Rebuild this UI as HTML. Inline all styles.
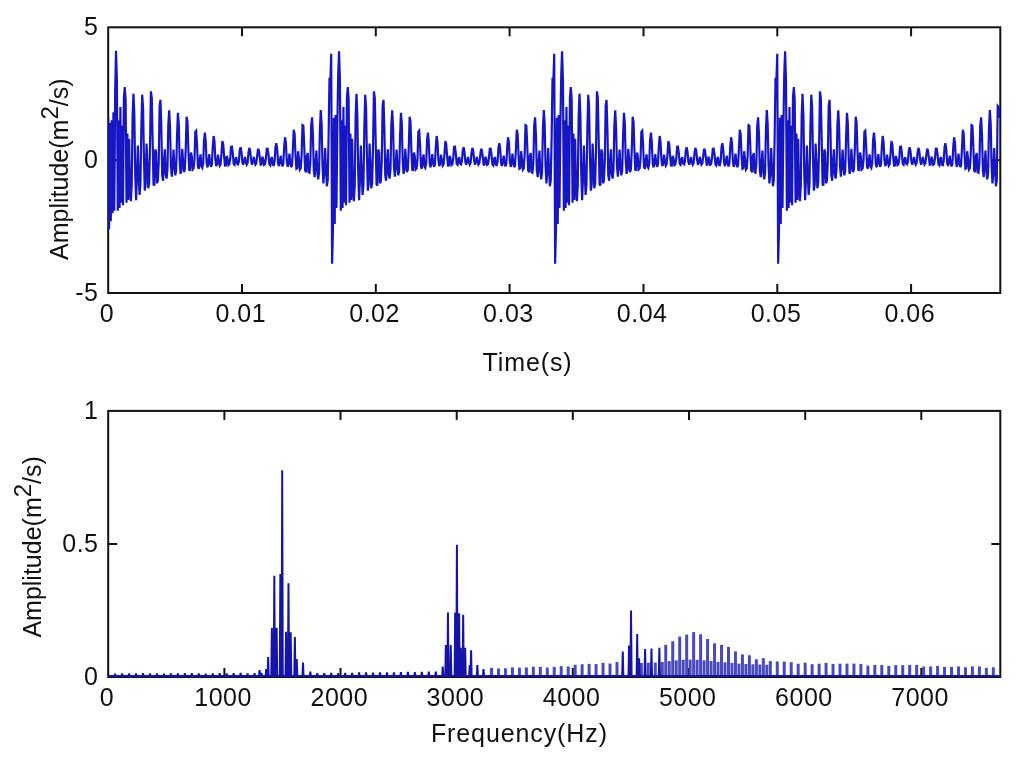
<!DOCTYPE html>
<html><head><meta charset="utf-8"><title>Plot</title>
<style>html,body{margin:0;padding:0;background:#fff;width:1024px;height:768px;overflow:hidden}svg{display:block}</style>
</head><body>
<svg width="1024" height="768" viewBox="0 0 1024 768">
<rect width="1024" height="768" fill="#fff"/>
<defs><clipPath id="c1"><rect x="108.2" y="27.3" width="892.1" height="265.7"/></clipPath><clipPath id="c2"><rect x="108.2" y="410.9" width="892.1" height="266.1"/></clipPath></defs>
<rect x="108.2" y="27.3" width="892.1" height="265.7" fill="none" stroke="#111" stroke-width="2"/>
<line x1="242.0" y1="293.0" x2="242.0" y2="284.0" stroke="#111" stroke-width="2"/>
<line x1="242.0" y1="27.3" x2="242.0" y2="36.3" stroke="#111" stroke-width="2"/>
<line x1="375.8" y1="293.0" x2="375.8" y2="284.0" stroke="#111" stroke-width="2"/>
<line x1="375.8" y1="27.3" x2="375.8" y2="36.3" stroke="#111" stroke-width="2"/>
<line x1="509.6" y1="293.0" x2="509.6" y2="284.0" stroke="#111" stroke-width="2"/>
<line x1="509.6" y1="27.3" x2="509.6" y2="36.3" stroke="#111" stroke-width="2"/>
<line x1="643.5" y1="293.0" x2="643.5" y2="284.0" stroke="#111" stroke-width="2"/>
<line x1="643.5" y1="27.3" x2="643.5" y2="36.3" stroke="#111" stroke-width="2"/>
<line x1="777.3" y1="293.0" x2="777.3" y2="284.0" stroke="#111" stroke-width="2"/>
<line x1="777.3" y1="27.3" x2="777.3" y2="36.3" stroke="#111" stroke-width="2"/>
<line x1="911.1" y1="293.0" x2="911.1" y2="284.0" stroke="#111" stroke-width="2"/>
<line x1="911.1" y1="27.3" x2="911.1" y2="36.3" stroke="#111" stroke-width="2"/>
<line x1="108.2" y1="160.2" x2="117.2" y2="160.2" stroke="#111" stroke-width="2"/>
<line x1="1000.3" y1="160.2" x2="991.3" y2="160.2" stroke="#111" stroke-width="2"/>
<rect x="108.2" y="410.9" width="892.1" height="266.1" fill="none" stroke="#111" stroke-width="2"/>
<line x1="224.4" y1="677.0" x2="224.4" y2="668.0" stroke="#111" stroke-width="2"/>
<line x1="224.4" y1="410.9" x2="224.4" y2="419.9" stroke="#111" stroke-width="2"/>
<line x1="340.5" y1="677.0" x2="340.5" y2="668.0" stroke="#111" stroke-width="2"/>
<line x1="340.5" y1="410.9" x2="340.5" y2="419.9" stroke="#111" stroke-width="2"/>
<line x1="456.7" y1="677.0" x2="456.7" y2="668.0" stroke="#111" stroke-width="2"/>
<line x1="456.7" y1="410.9" x2="456.7" y2="419.9" stroke="#111" stroke-width="2"/>
<line x1="572.8" y1="677.0" x2="572.8" y2="668.0" stroke="#111" stroke-width="2"/>
<line x1="572.8" y1="410.9" x2="572.8" y2="419.9" stroke="#111" stroke-width="2"/>
<line x1="689.0" y1="677.0" x2="689.0" y2="668.0" stroke="#111" stroke-width="2"/>
<line x1="689.0" y1="410.9" x2="689.0" y2="419.9" stroke="#111" stroke-width="2"/>
<line x1="805.2" y1="677.0" x2="805.2" y2="668.0" stroke="#111" stroke-width="2"/>
<line x1="805.2" y1="410.9" x2="805.2" y2="419.9" stroke="#111" stroke-width="2"/>
<line x1="921.3" y1="677.0" x2="921.3" y2="668.0" stroke="#111" stroke-width="2"/>
<line x1="921.3" y1="410.9" x2="921.3" y2="419.9" stroke="#111" stroke-width="2"/>
<line x1="108.2" y1="544.0" x2="117.2" y2="544.0" stroke="#111" stroke-width="2"/>
<line x1="1000.3" y1="544.0" x2="991.3" y2="544.0" stroke="#111" stroke-width="2"/>
<polyline clip-path="url(#c1)" points="108.20,117.64 109.07,229.23 109.94,122.95 110.81,221.26 111.68,120.30 112.56,213.29 113.43,112.32 114.30,210.63 115.17,91.07 116.04,50.68 116.91,80.44 117.78,210.63 118.65,120.30 119.53,207.98 120.40,107.01 121.27,202.66 122.14,125.61 123.01,205.32 123.88,97.98 124.75,87.08 125.62,99.04 126.50,202.66 127.37,133.58 128.24,200.00 129.11,138.89 129.98,188.28 130.85,201.28 131.72,185.56 132.59,116.25 133.46,93.67 134.34,114.99 135.21,173.68 136.08,200.27 136.95,178.15 137.82,145.47 138.69,174.11 139.56,194.97 140.43,184.43 141.31,129.89 142.18,94.68 143.05,107.61 143.92,156.81 144.79,190.64 145.66,184.10 146.53,143.59 147.40,162.74 148.27,188.21 149.15,182.71 150.02,145.92 150.89,91.39 151.76,97.85 152.63,139.72 153.50,184.36 154.37,185.54 155.24,149.43 156.12,152.33 156.99,183.32 157.86,180.90 158.73,162.02 159.60,105.96 160.47,99.80 161.34,127.95 162.21,175.27 163.09,180.75 163.96,161.24 164.83,149.36 165.70,174.01 166.57,178.52 167.44,169.86 168.31,125.01 169.18,110.31 170.05,127.74 170.93,166.52 171.80,176.66 172.67,166.49 173.54,149.46 174.41,166.67 175.28,175.42 176.15,170.63 177.02,136.61 177.90,112.82 178.77,123.22 179.64,159.43 180.51,173.85 181.38,169.99 182.25,148.87 183.12,161.51 183.99,172.15 184.86,169.35 185.74,148.84 186.61,116.81 187.48,121.79 188.35,149.19 189.22,169.84 190.09,170.02 190.96,152.46 191.83,156.55 192.71,169.35 193.58,168.26 194.45,159.76 195.32,131.90 196.19,130.76 197.06,145.00 197.93,166.66 198.80,168.77 199.68,159.68 200.55,154.45 201.42,166.34 202.29,167.87 203.16,163.49 204.03,140.07 204.90,132.67 205.77,142.40 206.64,163.25 207.52,167.44 208.39,162.25 209.26,154.18 210.13,163.13 211.00,166.87 211.87,164.51 212.74,147.02 213.61,135.97 214.49,141.88 215.36,159.85 216.23,166.18 217.10,164.04 217.97,154.55 218.84,160.73 219.71,165.80 220.58,164.40 221.45,153.91 222.33,141.17 223.20,143.90 224.07,155.80 224.94,165.49 225.81,165.42 226.68,155.85 227.55,158.61 228.42,165.06 229.30,164.34 230.17,159.07 231.04,146.77 231.91,146.57 232.78,153.11 233.65,163.71 234.52,164.73 235.39,159.19 236.27,157.18 237.14,163.72 238.01,164.37 238.88,161.48 239.75,150.21 240.62,147.28 241.49,151.92 242.36,162.23 243.23,164.67 244.11,161.00 244.98,156.99 245.85,162.22 246.72,164.65 247.59,162.97 248.46,152.99 249.33,147.89 250.20,150.92 251.08,160.09 251.95,164.67 252.82,162.74 253.69,156.86 254.56,160.71 255.43,164.59 256.30,163.41 257.17,155.76 258.04,148.80 258.92,150.34 259.79,157.60 260.66,164.67 261.53,164.49 262.40,156.59 263.27,159.16 264.14,164.69 265.01,164.05 265.89,158.62 266.76,148.80 267.63,148.68 268.50,154.38 269.37,164.27 270.24,165.31 271.11,158.72 271.98,157.09 272.86,164.72 273.73,165.16 274.60,161.42 275.47,147.06 276.34,143.17 277.21,149.33 278.08,163.39 278.95,166.08 279.82,161.09 280.70,155.60 281.57,163.44 282.44,166.41 283.31,164.13 284.18,146.79 285.05,137.27 285.92,143.02 286.79,160.90 287.67,166.94 288.54,163.83 289.41,153.65 290.28,161.73 291.15,167.19 292.02,165.45 292.89,148.29 293.76,129.73 294.63,133.93 295.51,155.54 296.38,168.77 297.25,168.18 298.12,151.20 298.99,159.55 299.86,169.56 300.73,168.28 301.60,155.46 302.48,125.15 303.35,125.73 304.22,145.42 305.09,170.23 305.96,172.29 306.83,156.15 307.70,153.13 308.57,172.35 309.45,172.79 310.32,163.24 311.19,125.59 312.06,117.43 312.93,134.71 313.80,170.75 314.67,177.13 315.54,163.01 316.41,150.59 317.29,171.63 318.16,179.40 319.03,172.89 319.90,129.39 320.77,110.13 321.64,124.38 322.51,165.73 323.38,183.38 324.26,172.40 325.13,147.93 326.00,168.56 326.87,186.31 327.74,180.11 328.61,136.08 329.48,77.78 330.35,80.44 331.22,53.87 332.10,263.77 332.97,229.23 333.84,117.64 334.71,223.92 335.58,114.98 336.45,207.98 337.32,128.27 338.19,75.13 339.07,51.21 339.94,80.44 340.81,210.63 341.68,120.30 342.55,207.98 343.42,107.01 344.29,202.66 345.16,125.61 346.04,205.32 346.91,97.98 347.78,87.08 348.65,99.04 349.52,202.66 350.39,133.58 351.26,200.00 352.13,138.89 353.00,188.28 353.88,201.28 354.75,185.56 355.62,116.25 356.49,93.67 357.36,114.99 358.23,173.68 359.10,200.27 359.97,178.15 360.85,145.47 361.72,174.11 362.59,194.97 363.46,184.43 364.33,129.89 365.20,94.68 366.07,107.61 366.94,156.81 367.82,190.64 368.69,184.10 369.56,143.59 370.43,162.74 371.30,188.21 372.17,182.71 373.04,145.92 373.91,91.39 374.78,97.85 375.66,139.72 376.53,184.36 377.40,185.54 378.27,149.43 379.14,152.33 380.01,183.32 380.88,180.90 381.75,162.02 382.63,105.96 383.50,99.80 384.37,127.95 385.24,175.27 386.11,180.75 386.98,161.24 387.85,149.36 388.72,174.01 389.59,178.52 390.47,169.86 391.34,125.01 392.21,110.31 393.08,127.74 393.95,166.52 394.82,176.66 395.69,166.49 396.56,149.46 397.44,166.67 398.31,175.42 399.18,170.63 400.05,136.61 400.92,112.82 401.79,123.22 402.66,159.43 403.53,173.85 404.41,169.99 405.28,148.87 406.15,161.51 407.02,172.15 407.89,169.35 408.76,148.84 409.63,116.81 410.50,121.79 411.37,149.19 412.25,169.84 413.12,170.02 413.99,152.46 414.86,156.55 415.73,169.35 416.60,168.26 417.47,159.76 418.34,131.90 419.22,130.76 420.09,145.00 420.96,166.66 421.83,168.77 422.70,159.68 423.57,154.45 424.44,166.34 425.31,167.87 426.18,163.49 427.06,140.07 427.93,132.67 428.80,142.40 429.67,163.25 430.54,167.44 431.41,162.25 432.28,154.18 433.15,163.13 434.03,166.87 434.90,164.51 435.77,147.02 436.64,135.97 437.51,141.88 438.38,159.85 439.25,166.18 440.12,164.04 441.00,154.55 441.87,160.73 442.74,165.80 443.61,164.40 444.48,153.91 445.35,141.17 446.22,143.90 447.09,155.80 447.96,165.49 448.84,165.42 449.71,155.85 450.58,158.61 451.45,165.06 452.32,164.34 453.19,159.07 454.06,146.77 454.93,146.57 455.81,153.11 456.68,163.71 457.55,164.73 458.42,159.19 459.29,157.18 460.16,163.72 461.03,164.37 461.90,161.48 462.77,150.21 463.65,147.28 464.52,151.92 465.39,162.23 466.26,164.67 467.13,161.00 468.00,156.99 468.87,162.22 469.74,164.65 470.62,162.97 471.49,152.99 472.36,147.89 473.23,150.92 474.10,160.09 474.97,164.67 475.84,162.74 476.71,156.86 477.59,160.71 478.46,164.59 479.33,163.41 480.20,155.76 481.07,148.80 481.94,150.34 482.81,157.60 483.68,164.67 484.55,164.49 485.43,156.59 486.30,159.16 487.17,164.69 488.04,164.05 488.91,158.62 489.78,148.80 490.65,148.68 491.52,154.38 492.40,164.27 493.27,165.31 494.14,158.72 495.01,157.09 495.88,164.72 496.75,165.16 497.62,161.42 498.49,147.06 499.36,143.17 500.24,149.33 501.11,163.39 501.98,166.08 502.85,161.09 503.72,155.60 504.59,163.44 505.46,166.41 506.33,164.13 507.21,146.79 508.08,137.27 508.95,143.02 509.82,160.90 510.69,166.94 511.56,163.83 512.43,153.65 513.30,161.73 514.18,167.19 515.05,165.45 515.92,148.29 516.79,129.73 517.66,133.93 518.53,155.54 519.40,168.77 520.27,168.18 521.14,151.20 522.02,159.55 522.89,169.56 523.76,168.28 524.63,155.46 525.50,125.15 526.37,125.73 527.24,145.42 528.11,170.23 528.99,172.29 529.86,156.15 530.73,153.13 531.60,172.35 532.47,172.79 533.34,163.24 534.21,125.59 535.08,117.43 535.95,134.71 536.83,170.75 537.70,177.13 538.57,163.01 539.44,150.59 540.31,171.63 541.18,179.40 542.05,172.89 542.92,129.39 543.80,110.13 544.67,124.38 545.54,165.73 546.41,183.38 547.28,172.40 548.15,147.93 549.02,168.56 549.89,186.31 550.77,180.11 551.64,136.08 552.51,77.78 553.38,80.44 554.25,53.87 555.12,263.77 555.99,229.23 556.86,117.64 557.73,223.92 558.61,114.98 559.48,207.98 560.35,128.27 561.22,75.13 562.09,51.21 562.96,80.44 563.83,210.63 564.70,120.30 565.58,207.98 566.45,107.01 567.32,202.66 568.19,125.61 569.06,205.32 569.93,97.98 570.80,87.08 571.67,99.04 572.55,202.66 573.42,133.58 574.29,200.00 575.16,138.89 576.03,188.28 576.90,201.28 577.77,185.56 578.64,116.25 579.51,93.67 580.39,114.99 581.26,173.68 582.13,200.27 583.00,178.15 583.87,145.47 584.74,174.11 585.61,194.97 586.48,184.43 587.36,129.89 588.23,94.68 589.10,107.61 589.97,156.81 590.84,190.64 591.71,184.10 592.58,143.59 593.45,162.74 594.32,188.21 595.20,182.71 596.07,145.92 596.94,91.39 597.81,97.85 598.68,139.72 599.55,184.36 600.42,185.54 601.29,149.43 602.17,152.33 603.04,183.32 603.91,180.90 604.78,162.02 605.65,105.96 606.52,99.80 607.39,127.95 608.26,175.27 609.14,180.75 610.01,161.24 610.88,149.36 611.75,174.01 612.62,178.52 613.49,169.86 614.36,125.01 615.23,110.31 616.10,127.74 616.98,166.52 617.85,176.66 618.72,166.49 619.59,149.46 620.46,166.67 621.33,175.42 622.20,170.63 623.07,136.61 623.95,112.82 624.82,123.22 625.69,159.43 626.56,173.85 627.43,169.99 628.30,148.87 629.17,161.51 630.04,172.15 630.91,169.35 631.79,148.84 632.66,116.81 633.53,121.79 634.40,149.19 635.27,169.84 636.14,170.02 637.01,152.46 637.88,156.55 638.76,169.35 639.63,168.26 640.50,159.76 641.37,131.90 642.24,130.76 643.11,145.00 643.98,166.66 644.85,168.77 645.73,159.68 646.60,154.45 647.47,166.34 648.34,167.87 649.21,163.49 650.08,140.07 650.95,132.67 651.82,142.40 652.69,163.25 653.57,167.44 654.44,162.25 655.31,154.18 656.18,163.13 657.05,166.87 657.92,164.51 658.79,147.02 659.66,135.97 660.54,141.88 661.41,159.85 662.28,166.18 663.15,164.04 664.02,154.55 664.89,160.73 665.76,165.80 666.63,164.40 667.50,153.91 668.38,141.17 669.25,143.90 670.12,155.80 670.99,165.49 671.86,165.42 672.73,155.85 673.60,158.61 674.47,165.06 675.35,164.34 676.22,159.07 677.09,146.77 677.96,146.57 678.83,153.11 679.70,163.71 680.57,164.73 681.44,159.19 682.32,157.18 683.19,163.72 684.06,164.37 684.93,161.48 685.80,150.21 686.67,147.28 687.54,151.92 688.41,162.23 689.28,164.67 690.16,161.00 691.03,156.99 691.90,162.22 692.77,164.65 693.64,162.97 694.51,152.99 695.38,147.89 696.25,150.92 697.13,160.09 698.00,164.67 698.87,162.74 699.74,156.86 700.61,160.71 701.48,164.59 702.35,163.41 703.22,155.76 704.09,148.80 704.97,150.34 705.84,157.60 706.71,164.67 707.58,164.49 708.45,156.59 709.32,159.16 710.19,164.69 711.06,164.05 711.94,158.62 712.81,148.80 713.68,148.68 714.55,154.38 715.42,164.27 716.29,165.31 717.16,158.72 718.03,157.09 718.91,164.72 719.78,165.16 720.65,161.42 721.52,147.06 722.39,143.17 723.26,149.33 724.13,163.39 725.00,166.08 725.87,161.09 726.75,155.60 727.62,163.44 728.49,166.41 729.36,164.13 730.23,146.79 731.10,137.27 731.97,143.02 732.84,160.90 733.72,166.94 734.59,163.83 735.46,153.65 736.33,161.73 737.20,167.19 738.07,165.45 738.94,148.29 739.81,129.73 740.68,133.93 741.56,155.54 742.43,168.77 743.30,168.18 744.17,151.20 745.04,159.55 745.91,169.56 746.78,168.28 747.65,155.46 748.53,125.15 749.40,125.73 750.27,145.42 751.14,170.23 752.01,172.29 752.88,156.15 753.75,153.13 754.62,172.35 755.50,172.79 756.37,163.24 757.24,125.59 758.11,117.43 758.98,134.71 759.85,170.75 760.72,177.13 761.59,163.01 762.46,150.59 763.34,171.63 764.21,179.40 765.08,172.89 765.95,129.39 766.82,110.13 767.69,124.38 768.56,165.73 769.43,183.38 770.31,172.40 771.18,147.93 772.05,168.56 772.92,186.31 773.79,180.11 774.66,136.08 775.53,77.78 776.40,80.44 777.27,53.87 778.15,263.77 779.02,229.23 779.89,117.64 780.76,223.92 781.63,114.98 782.50,207.98 783.37,128.27 784.24,75.13 785.12,51.21 785.99,80.44 786.86,210.63 787.73,120.30 788.60,207.98 789.47,107.01 790.34,202.66 791.21,125.61 792.09,205.32 792.96,97.98 793.83,87.08 794.70,99.04 795.57,202.66 796.44,133.58 797.31,200.00 798.18,138.89 799.05,188.28 799.93,201.28 800.80,185.56 801.67,116.25 802.54,93.67 803.41,114.99 804.28,173.68 805.15,200.27 806.02,178.15 806.90,145.47 807.77,174.11 808.64,194.97 809.51,184.43 810.38,129.89 811.25,94.68 812.12,107.61 812.99,156.81 813.87,190.64 814.74,184.10 815.61,143.59 816.48,162.74 817.35,188.21 818.22,182.71 819.09,145.92 819.96,91.39 820.83,97.85 821.71,139.72 822.58,184.36 823.45,185.54 824.32,149.43 825.19,152.33 826.06,183.32 826.93,180.90 827.80,162.02 828.68,105.96 829.55,99.80 830.42,127.95 831.29,175.27 832.16,180.75 833.03,161.24 833.90,149.36 834.77,174.01 835.64,178.52 836.52,169.86 837.39,125.01 838.26,110.31 839.13,127.74 840.00,166.52 840.87,176.66 841.74,166.49 842.61,149.46 843.49,166.67 844.36,175.42 845.23,170.63 846.10,136.61 846.97,112.82 847.84,123.22 848.71,159.43 849.58,173.85 850.46,169.99 851.33,148.87 852.20,161.51 853.07,172.15 853.94,169.35 854.81,148.84 855.68,116.81 856.55,121.79 857.42,149.19 858.30,169.84 859.17,170.02 860.04,152.46 860.91,156.55 861.78,169.35 862.65,168.26 863.52,159.76 864.39,131.90 865.27,130.76 866.14,145.00 867.01,166.66 867.88,168.77 868.75,159.68 869.62,154.45 870.49,166.34 871.36,167.87 872.23,163.49 873.11,140.07 873.98,132.67 874.85,142.40 875.72,163.25 876.59,167.44 877.46,162.25 878.33,154.18 879.20,163.13 880.08,166.87 880.95,164.51 881.82,147.02 882.69,135.97 883.56,141.88 884.43,159.85 885.30,166.18 886.17,164.04 887.05,154.55 887.92,160.73 888.79,165.80 889.66,164.40 890.53,153.91 891.40,141.17 892.27,143.90 893.14,155.80 894.01,165.49 894.89,165.42 895.76,155.85 896.63,158.61 897.50,165.06 898.37,164.34 899.24,159.07 900.11,146.77 900.98,146.57 901.86,153.11 902.73,163.71 903.60,164.73 904.47,159.19 905.34,157.18 906.21,163.72 907.08,164.37 907.95,161.48 908.82,150.21 909.70,147.28 910.57,151.92 911.44,162.23 912.31,164.67 913.18,161.00 914.05,156.99 914.92,162.22 915.79,164.65 916.67,162.97 917.54,152.99 918.41,147.89 919.28,150.92 920.15,160.09 921.02,164.67 921.89,162.74 922.76,156.86 923.64,160.71 924.51,164.59 925.38,163.41 926.25,155.76 927.12,148.80 927.99,150.34 928.86,157.60 929.73,164.67 930.60,164.49 931.48,156.59 932.35,159.16 933.22,164.69 934.09,164.05 934.96,158.62 935.83,148.80 936.70,148.68 937.57,154.38 938.45,164.27 939.32,165.31 940.19,158.72 941.06,157.09 941.93,164.72 942.80,165.16 943.67,161.42 944.54,147.06 945.41,143.17 946.29,149.33 947.16,163.39 948.03,166.08 948.90,161.09 949.77,155.60 950.64,163.44 951.51,166.41 952.38,164.13 953.26,146.79 954.13,137.27 955.00,143.02 955.87,160.90 956.74,166.94 957.61,163.83 958.48,153.65 959.35,161.73 960.23,167.19 961.10,165.45 961.97,148.29 962.84,129.73 963.71,133.93 964.58,155.54 965.45,168.77 966.32,168.18 967.19,151.20 968.07,159.55 968.94,169.56 969.81,168.28 970.68,155.46 971.55,125.15 972.42,125.73 973.29,145.42 974.16,170.23 975.04,172.29 975.91,156.15 976.78,153.13 977.65,172.35 978.52,172.79 979.39,163.24 980.26,125.59 981.13,117.43 982.00,134.71 982.88,170.75 983.75,177.13 984.62,163.01 985.49,150.59 986.36,171.63 987.23,179.40 988.10,172.89 988.97,129.39 989.85,110.13 990.72,124.38 991.59,165.73 992.46,183.38 993.33,172.40 994.20,147.93 995.07,168.56 995.94,186.31 996.82,180.11 997.69,105.95 998.56,107.01 999.43,117.64" fill="none" stroke="#1616c4" stroke-width="2.2" stroke-linejoin="miter" stroke-miterlimit="3"/>
<g clip-path="url(#c2)" fill="#4a4abf"><rect x="490.02" y="667.81" width="3.0" height="9.19"/><rect x="496.99" y="668.43" width="3.0" height="8.57"/><rect x="503.96" y="668.29" width="3.0" height="8.71"/><rect x="510.93" y="667.37" width="3.0" height="9.63"/><rect x="517.90" y="667.65" width="3.0" height="9.35"/><rect x="524.87" y="667.39" width="3.0" height="9.61"/><rect x="531.84" y="666.71" width="3.0" height="10.29"/><rect x="538.81" y="666.84" width="3.0" height="10.16"/><rect x="545.78" y="667.57" width="3.0" height="9.43"/><rect x="552.75" y="666.89" width="3.0" height="10.11"/><rect x="559.72" y="666.13" width="3.0" height="10.87"/><rect x="566.69" y="666.48" width="3.0" height="10.52"/><rect x="573.66" y="664.80" width="3.0" height="12.20"/><rect x="580.63" y="664.27" width="3.0" height="12.73"/><rect x="587.60" y="663.89" width="3.0" height="13.11"/><rect x="594.57" y="664.11" width="3.0" height="12.89"/><rect x="601.54" y="662.78" width="3.0" height="14.22"/><rect x="608.51" y="663.58" width="3.0" height="13.42"/><rect x="615.48" y="661.94" width="3.0" height="15.06"/><rect x="639.87" y="663.00" width="3.0" height="14.00"/><rect x="646.84" y="662.72" width="3.0" height="14.28"/><rect x="653.81" y="662.51" width="3.0" height="14.49"/><rect x="660.78" y="662.05" width="3.0" height="14.95"/><rect x="664.26" y="644.80" width="3.0" height="32.20"/><rect x="667.75" y="661.09" width="3.0" height="15.91"/><rect x="671.23" y="641.24" width="3.0" height="35.76"/><rect x="674.72" y="660.34" width="3.0" height="16.66"/><rect x="678.20" y="636.58" width="3.0" height="40.42"/><rect x="681.69" y="659.70" width="3.0" height="17.30"/><rect x="685.17" y="634.62" width="3.0" height="42.38"/><rect x="688.66" y="659.64" width="3.0" height="17.36"/><rect x="692.14" y="632.05" width="3.0" height="44.95"/><rect x="695.63" y="659.78" width="3.0" height="17.22"/><rect x="699.11" y="634.22" width="3.0" height="42.78"/><rect x="702.59" y="660.32" width="3.0" height="16.68"/><rect x="706.08" y="638.94" width="3.0" height="38.06"/><rect x="709.56" y="661.03" width="3.0" height="15.97"/><rect x="713.05" y="643.29" width="3.0" height="33.71"/><rect x="716.53" y="661.83" width="3.0" height="15.17"/><rect x="720.02" y="644.90" width="3.0" height="32.10"/><rect x="723.50" y="662.31" width="3.0" height="14.69"/><rect x="726.99" y="646.90" width="3.0" height="30.10"/><rect x="730.47" y="662.88" width="3.0" height="14.12"/><rect x="733.96" y="651.42" width="3.0" height="25.58"/><rect x="737.44" y="663.61" width="3.0" height="13.39"/><rect x="740.93" y="654.35" width="3.0" height="22.65"/><rect x="744.41" y="664.02" width="3.0" height="12.98"/><rect x="747.90" y="655.24" width="3.0" height="21.76"/><rect x="751.38" y="664.28" width="3.0" height="12.72"/><rect x="754.87" y="659.35" width="3.0" height="17.65"/><rect x="758.35" y="664.54" width="3.0" height="12.46"/><rect x="761.84" y="658.16" width="3.0" height="18.84"/><rect x="765.32" y="664.79" width="3.0" height="12.21"/><rect x="768.81" y="661.09" width="3.0" height="15.91"/><rect x="775.77" y="661.41" width="3.0" height="15.59"/><rect x="782.74" y="661.50" width="3.0" height="15.50"/><rect x="789.71" y="662.22" width="3.0" height="14.78"/><rect x="796.68" y="663.69" width="3.0" height="13.31"/><rect x="803.65" y="662.71" width="3.0" height="14.29"/><rect x="810.62" y="664.18" width="3.0" height="12.82"/><rect x="817.59" y="663.72" width="3.0" height="13.28"/><rect x="824.56" y="662.90" width="3.0" height="14.10"/><rect x="831.53" y="663.90" width="3.0" height="13.10"/><rect x="838.50" y="663.71" width="3.0" height="13.29"/><rect x="845.47" y="663.62" width="3.0" height="13.38"/><rect x="852.44" y="663.61" width="3.0" height="13.39"/><rect x="859.41" y="663.91" width="3.0" height="13.09"/><rect x="866.38" y="665.58" width="3.0" height="11.42"/><rect x="873.35" y="664.92" width="3.0" height="12.08"/><rect x="880.32" y="664.99" width="3.0" height="12.01"/><rect x="887.29" y="665.93" width="3.0" height="11.07"/><rect x="894.26" y="665.16" width="3.0" height="11.84"/><rect x="901.23" y="665.20" width="3.0" height="11.80"/><rect x="908.20" y="664.96" width="3.0" height="12.04"/><rect x="915.17" y="664.92" width="3.0" height="12.08"/><rect x="922.14" y="666.53" width="3.0" height="10.47"/><rect x="929.10" y="666.49" width="3.0" height="10.51"/><rect x="936.07" y="665.88" width="3.0" height="11.12"/><rect x="943.04" y="666.92" width="3.0" height="10.08"/><rect x="950.01" y="666.90" width="3.0" height="10.10"/><rect x="956.98" y="666.45" width="3.0" height="10.55"/><rect x="963.95" y="667.26" width="3.0" height="9.74"/><rect x="970.92" y="666.40" width="3.0" height="10.60"/><rect x="977.89" y="666.43" width="3.0" height="10.57"/><rect x="984.86" y="667.87" width="3.0" height="9.13"/><rect x="991.83" y="667.23" width="3.0" height="9.77"/></g>
<polyline clip-path="url(#c2)" points="108.20,675.94 114.62,675.94 115.17,673.76 115.72,675.94 121.59,675.94 122.14,673.36 122.69,675.94 128.56,675.94 129.11,673.54 129.66,675.94 135.53,675.94 136.08,673.36 136.63,675.94 142.50,675.94 143.05,673.20 143.60,675.94 149.47,675.94 150.02,673.44 150.57,675.94 156.44,675.94 156.99,673.45 157.54,675.94 163.41,675.94 163.96,673.68 164.51,675.94 170.38,675.94 170.93,673.55 171.48,675.94 177.35,675.94 177.90,673.41 178.45,675.94 184.31,675.94 184.86,673.29 185.41,675.94 191.28,675.94 191.83,673.21 192.38,675.94 198.25,675.94 198.80,673.44 199.35,675.94 205.22,675.94 205.77,673.61 206.32,675.94 212.19,675.94 212.74,673.47 213.29,675.94 219.16,675.94 219.71,673.09 220.26,675.94 226.13,675.94 226.68,673.48 227.23,675.94 233.10,675.94 233.65,673.33 234.20,675.94 240.07,675.94 240.62,673.03 241.17,675.94 247.04,675.94 247.59,673.56 248.14,675.94 254.01,675.94 254.56,673.19 255.11,675.94 259.00,675.94 259.55,670.08 260.10,675.94 260.98,675.94 261.53,672.96 262.08,675.94 265.63,675.94 266.18,669.02 266.73,675.94 267.60,675.94 268.15,657.04 268.70,675.94 271.32,675.94 271.87,627.77 272.42,675.94 273.76,675.94 274.31,575.88 274.86,675.94 276.08,675.94 276.63,627.77 277.18,675.94 279.80,675.94 280.35,574.02 280.90,675.94 281.66,675.94 282.21,470.24 282.76,675.94 285.49,675.94 286.04,631.76 286.59,675.94 287.93,675.94 288.48,583.33 289.03,675.94 290.14,675.94 290.69,632.30 291.24,675.94 294.32,675.94 294.87,637.09 295.42,675.94 296.18,675.94 296.73,658.91 297.28,675.94 302.45,675.94 303.00,662.63 303.55,675.94 309.77,675.94 310.32,671.68 310.87,675.94 316.74,675.94 317.29,673.10 317.84,675.94 323.71,675.94 324.26,673.24 324.81,675.94 330.67,675.94 331.22,673.04 331.77,675.94 337.64,675.94 338.19,673.10 338.74,675.94 344.61,675.94 345.16,672.96 345.71,675.94 351.58,675.94 352.13,672.93 352.68,675.94 358.55,675.94 359.10,672.51 359.65,675.94 365.52,675.94 366.07,672.46 366.62,675.94 372.49,675.94 373.04,672.68 373.59,675.94 379.46,675.94 380.01,672.39 380.56,675.94 386.43,675.94 386.98,672.51 387.53,675.94 393.40,675.94 393.95,672.28 394.50,675.94 400.37,675.94 400.92,672.26 401.47,675.94 407.34,675.94 407.89,671.92 408.44,675.94 414.31,675.94 414.86,672.05 415.41,675.94 421.28,675.94 421.83,671.88 422.38,675.94 428.25,675.94 428.80,671.56 429.35,675.94 435.22,675.94 435.77,671.56 436.32,675.94 442.19,675.94 442.74,666.62 443.29,675.94 445.32,675.94 445.87,645.07 446.42,675.94 447.41,675.94 447.96,612.60 448.51,675.94 450.20,675.94 450.75,645.07 451.30,675.94 454.62,675.94 455.17,612.60 455.72,675.94 456.36,675.94 456.91,544.75 457.46,675.94 458.57,675.94 459.12,613.14 459.67,675.94 460.19,675.94 460.74,647.73 461.29,675.94 462.63,675.94 463.18,614.73 463.73,675.94 464.61,675.94 465.16,647.73 465.71,675.94 469.14,675.94 469.69,665.03 470.24,675.94 470.53,675.94 471.08,650.39 471.63,675.94 476.80,675.94 477.35,665.03 477.90,675.94 482.96,675.94 483.51,669.02 484.06,675.94 622.23,675.94 622.78,651.45 623.33,675.94 628.51,675.94 629.06,645.60 629.61,675.94 630.48,675.94 631.03,610.48 631.58,675.94 636.64,675.94 637.19,633.89 637.74,675.94 638.50,675.94 639.05,658.37 639.60,675.94 644.54,675.94 645.09,649.06 645.64,675.94 650.92,675.94 651.47,648.53 652.02,675.94 658.82,675.94 659.37,647.73 659.92,675.94 1005.30,675.94" fill="none" stroke="#1414a8" stroke-width="2.0" stroke-linejoin="miter" stroke-miterlimit="3"/>
<g style="font-family:'Liberation Sans', Arial, sans-serif;font-size:25px;letter-spacing:0.5px;fill:#111" text-anchor="middle">
<text x="107.0" y="322">0</text>
<text x="240.8" y="322">0.01</text>
<text x="374.6" y="322">0.02</text>
<text x="508.4" y="322">0.03</text>
<text x="642.2" y="322">0.04</text>
<text x="776.0" y="322">0.05</text>
<text x="909.8" y="322">0.06</text>
<text x="107.0" y="706">0</text>
<text x="223.1" y="706">1000</text>
<text x="339.3" y="706">2000</text>
<text x="455.4" y="706">3000</text>
<text x="571.6" y="706">4000</text>
<text x="687.7" y="706">5000</text>
<text x="803.9" y="706">6000</text>
<text x="920.1" y="706">7000</text>
</g>
<g style="font-family:'Liberation Sans', Arial, sans-serif;font-size:25px;letter-spacing:0.5px;fill:#111" text-anchor="end">
<text x="98.5" y="35.3">5</text>
<text x="98.5" y="168.2">0</text>
<text x="98.5" y="301.0">-5</text>
<text x="98.5" y="418.9">1</text>
<text x="98.5" y="552.0">0.5</text>
<text x="98.5" y="685.0">0</text>
</g>
<text style="font-family:'Liberation Sans', Arial, sans-serif;font-size:25px;letter-spacing:0.9px;fill:#111" x="527.5" y="371.4" text-anchor="middle">Time(s)</text>
<text style="font-family:'Liberation Sans', Arial, sans-serif;font-size:25px;letter-spacing:0.9px;fill:#111" x="519.4" y="741.7" text-anchor="middle">Frequency(Hz)</text>
<text style="font-family:'Liberation Sans', Arial, sans-serif;font-size:25px;fill:#111" transform="translate(68,259.9) rotate(-90) scale(1.0,1)">Amplitude(m<tspan dy="-10" font-size="24">2</tspan><tspan dy="10">/s)</tspan></text>
<text style="font-family:'Liberation Sans', Arial, sans-serif;font-size:25px;fill:#111" transform="translate(41.3,637.6) rotate(-90) scale(1.0,1)">Amplitude(m<tspan dy="-10" font-size="24">2</tspan><tspan dy="10">/s)</tspan></text>
</svg>
</body></html>
